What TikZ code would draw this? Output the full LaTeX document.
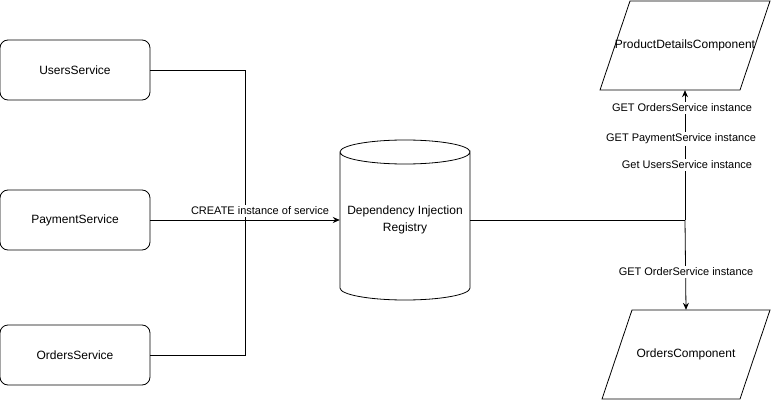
\documentclass[tikz,border=0pt]{standalone}
\usepackage{fontspec}
\setmainfont{Liberation Sans}
\usetikzlibrary{arrows.meta}
\begin{document}
\begin{tikzpicture}[x=1pt,y=-1pt,
  svc/.style={draw,rounded corners=8pt,minimum width=150pt,minimum height=60pt,font=\fontsize{12}{14}\selectfont,line width=0.8pt},
  lbl/.style={fill=white,inner sep=1.5pt,font=\fontsize{11}{12}\selectfont},
  conn/.style={line width=0.8pt},
  tip/.style={-{Stealth[length=7pt,width=6pt]}}]
\useasboundingbox (0,0) rectangle (771,401);
\node[svc] (users) at (75,70) {UsersService};
\node[svc] (pay) at (75,220) {PaymentService};
\node[svc] (orders) at (75,355) {OrdersService};
% cylinder
\draw[line width=0.8pt] (340,152) -- (340,288) arc[start angle=180,end angle=0,x radius=65,y radius=12] -- (470,152) arc[start angle=0,end angle=360,x radius=65,y radius=12];
\node[inner sep=0pt,minimum width=130pt,minimum height=160pt,align=center,font=\fontsize{12}{17}\selectfont] (reg) at (405,220) {Dependency Injection\\Registry};
% parallelograms
\draw[line width=0.8pt] (630,1) -- (770,1) -- (740,90) -- (600,90) -- cycle;
\node[minimum width=140pt,minimum height=89pt,inner sep=0pt,font=\fontsize{12}{14}\selectfont] (pdc) at (685,45.5) {ProductDetailsComponent};
\draw[line width=0.8pt] (632,310) -- (770,310) -- (740,399) -- (602,399) -- cycle;
\node[minimum width=140pt,minimum height=89pt,inner sep=0pt,font=\fontsize{12}{14}\selectfont] (oc) at (686,354.5) {OrdersComponent};
\coordinate (j) at (245,220);
\coordinate (k) at (685,220);
\draw[conn] (users.east) -| (j);
\draw[conn] (orders.east) -| (j);
\draw[conn,tip] (pay.east) -- (reg.west);
\node[lbl] (c) at (260,211) {CREATE instance of service};
\draw[conn] (reg.east) -- (k);
\draw[conn,tip] (k) -- (pdc.south);
\draw[conn,tip] (k) -- (oc.north);
\node[lbl] (l1) at (682,108) {GET OrdersService instance};
\node[lbl] (l2) at (681,139) {GET PaymentService instance};
\node[lbl] (l3) at (687,165) {Get UsersService instance};
\node[lbl] (l4) at (686,272) {GET OrderService instance};
\end{tikzpicture}
\end{document}
